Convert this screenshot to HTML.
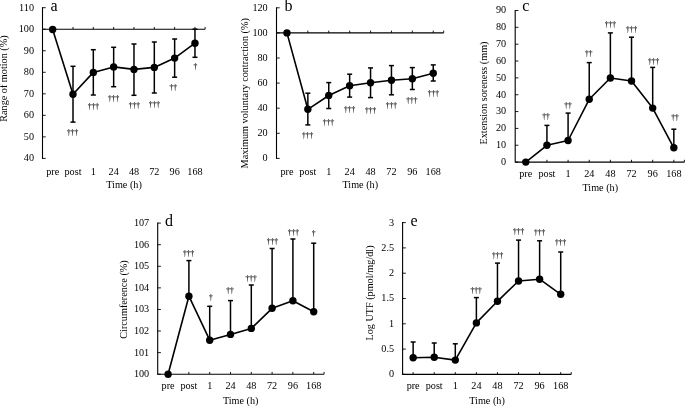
<!DOCTYPE html>
<html><head><meta charset="utf-8"><title>Figure</title>
<style>
html,body{margin:0;padding:0;background:#fff;}
svg{display:block;}
text{font-family:"Liberation Serif","DejaVu Serif",serif;fill:#000;}
</style></head><body>
<svg width="685" height="406" viewBox="0 0 685 406">
<rect width="685" height="406" fill="#fff"/>
<line x1="42.50" y1="7.20" x2="42.50" y2="158.90" stroke="#000" stroke-width="1.1" />
<line x1="42.50" y1="158.40" x2="45.70" y2="158.40" stroke="#000" stroke-width="0.9" />
<text x="34.00" y="161.30" font-size="10.2" text-anchor="end" >40</text>
<line x1="42.50" y1="136.87" x2="45.70" y2="136.87" stroke="#000" stroke-width="0.9" />
<text x="34.00" y="139.77" font-size="10.2" text-anchor="end" >50</text>
<line x1="42.50" y1="115.34" x2="45.70" y2="115.34" stroke="#000" stroke-width="0.9" />
<text x="34.00" y="118.24" font-size="10.2" text-anchor="end" >60</text>
<line x1="42.50" y1="93.81" x2="45.70" y2="93.81" stroke="#000" stroke-width="0.9" />
<text x="34.00" y="96.71" font-size="10.2" text-anchor="end" >70</text>
<line x1="42.50" y1="72.29" x2="45.70" y2="72.29" stroke="#000" stroke-width="0.9" />
<text x="34.00" y="75.19" font-size="10.2" text-anchor="end" >80</text>
<line x1="42.50" y1="50.76" x2="45.70" y2="50.76" stroke="#000" stroke-width="0.9" />
<text x="34.00" y="53.66" font-size="10.2" text-anchor="end" >90</text>
<line x1="42.50" y1="29.23" x2="45.70" y2="29.23" stroke="#000" stroke-width="0.9" />
<text x="34.00" y="32.13" font-size="10.2" text-anchor="end" >100</text>
<line x1="42.50" y1="7.70" x2="45.70" y2="7.70" stroke="#000" stroke-width="0.9" />
<text x="34.00" y="10.60" font-size="10.2" text-anchor="end" >110</text>
<line x1="42.50" y1="29.23" x2="205.14" y2="29.23" stroke="#000" stroke-width="1.1" />
<line x1="52.66" y1="29.23" x2="52.66" y2="26.93" stroke="#000" stroke-width="0.9" />
<line x1="73.00" y1="29.23" x2="73.00" y2="26.93" stroke="#000" stroke-width="0.9" />
<line x1="93.32" y1="29.23" x2="93.32" y2="26.93" stroke="#000" stroke-width="0.9" />
<line x1="113.66" y1="29.23" x2="113.66" y2="26.93" stroke="#000" stroke-width="0.9" />
<line x1="133.98" y1="29.23" x2="133.98" y2="26.93" stroke="#000" stroke-width="0.9" />
<line x1="154.31" y1="29.23" x2="154.31" y2="26.93" stroke="#000" stroke-width="0.9" />
<line x1="174.64" y1="29.23" x2="174.64" y2="26.93" stroke="#000" stroke-width="0.9" />
<line x1="194.97" y1="29.23" x2="194.97" y2="26.93" stroke="#000" stroke-width="0.9" />
<line x1="205.14" y1="29.23" x2="205.14" y2="26.93" stroke="#000" stroke-width="0.9" />
<text x="52.66" y="174.80" font-size="10.2" text-anchor="middle" >pre</text>
<text x="73.00" y="174.80" font-size="10.2" text-anchor="middle" >post</text>
<text x="93.32" y="174.80" font-size="10.2" text-anchor="middle" >1</text>
<text x="113.66" y="174.80" font-size="10.2" text-anchor="middle" >24</text>
<text x="133.98" y="174.80" font-size="10.2" text-anchor="middle" >48</text>
<text x="154.31" y="174.80" font-size="10.2" text-anchor="middle" >72</text>
<text x="174.64" y="174.80" font-size="10.2" text-anchor="middle" >96</text>
<text x="194.97" y="174.80" font-size="10.2" text-anchor="middle" >168</text>
<text x="124.00" y="188.00" font-size="10.2" text-anchor="middle" >Time (h)</text>
<text x="7.30" y="78.60" font-size="10.2" text-anchor="middle" transform="rotate(-90 7.30 78.60)">Range of motion (%)</text>
<text x="54.00" y="11.00" font-size="16" text-anchor="middle" >a</text>
<line x1="73.00" y1="94.20" x2="73.00" y2="66.30" stroke="#000" stroke-width="1.5" />
<line x1="70.50" y1="66.30" x2="75.50" y2="66.30" stroke="#000" stroke-width="1.5" />
<line x1="73.00" y1="94.20" x2="73.00" y2="122.10" stroke="#000" stroke-width="1.5" />
<line x1="70.50" y1="122.10" x2="75.50" y2="122.10" stroke="#000" stroke-width="1.5" />
<line x1="93.32" y1="72.40" x2="93.32" y2="49.70" stroke="#000" stroke-width="1.5" />
<line x1="90.82" y1="49.70" x2="95.82" y2="49.70" stroke="#000" stroke-width="1.5" />
<line x1="93.32" y1="72.40" x2="93.32" y2="95.00" stroke="#000" stroke-width="1.5" />
<line x1="90.82" y1="95.00" x2="95.82" y2="95.00" stroke="#000" stroke-width="1.5" />
<line x1="113.66" y1="66.90" x2="113.66" y2="47.30" stroke="#000" stroke-width="1.5" />
<line x1="111.16" y1="47.30" x2="116.16" y2="47.30" stroke="#000" stroke-width="1.5" />
<line x1="113.66" y1="66.90" x2="113.66" y2="86.70" stroke="#000" stroke-width="1.5" />
<line x1="111.16" y1="86.70" x2="116.16" y2="86.70" stroke="#000" stroke-width="1.5" />
<line x1="133.98" y1="69.40" x2="133.98" y2="44.00" stroke="#000" stroke-width="1.5" />
<line x1="131.48" y1="44.00" x2="136.48" y2="44.00" stroke="#000" stroke-width="1.5" />
<line x1="133.98" y1="69.40" x2="133.98" y2="95.30" stroke="#000" stroke-width="1.5" />
<line x1="131.48" y1="95.30" x2="136.48" y2="95.30" stroke="#000" stroke-width="1.5" />
<line x1="154.31" y1="67.40" x2="154.31" y2="42.00" stroke="#000" stroke-width="1.5" />
<line x1="151.81" y1="42.00" x2="156.81" y2="42.00" stroke="#000" stroke-width="1.5" />
<line x1="154.31" y1="67.40" x2="154.31" y2="93.00" stroke="#000" stroke-width="1.5" />
<line x1="151.81" y1="93.00" x2="156.81" y2="93.00" stroke="#000" stroke-width="1.5" />
<line x1="174.64" y1="58.10" x2="174.64" y2="39.00" stroke="#000" stroke-width="1.5" />
<line x1="172.14" y1="39.00" x2="177.14" y2="39.00" stroke="#000" stroke-width="1.5" />
<line x1="174.64" y1="58.10" x2="174.64" y2="77.20" stroke="#000" stroke-width="1.5" />
<line x1="172.14" y1="77.20" x2="177.14" y2="77.20" stroke="#000" stroke-width="1.5" />
<line x1="194.97" y1="43.20" x2="194.97" y2="29.20" stroke="#000" stroke-width="1.5" />
<line x1="192.47" y1="29.20" x2="197.47" y2="29.20" stroke="#000" stroke-width="1.5" />
<line x1="194.97" y1="43.20" x2="194.97" y2="57.30" stroke="#000" stroke-width="1.5" />
<line x1="192.47" y1="57.30" x2="197.47" y2="57.30" stroke="#000" stroke-width="1.5" />
<polyline points="52.66,29.50 73.00,94.20 93.32,72.40 113.66,66.90 133.98,69.40 154.31,67.40 174.64,58.10 194.97,43.20" fill="none" stroke="#000" stroke-width="1.6" stroke-linejoin="round"/>
<circle cx="52.66" cy="29.50" r="3.7" fill="#000"/>
<circle cx="73.00" cy="94.20" r="3.7" fill="#000"/>
<circle cx="93.32" cy="72.40" r="3.7" fill="#000"/>
<circle cx="113.66" cy="66.90" r="3.7" fill="#000"/>
<circle cx="133.98" cy="69.40" r="3.7" fill="#000"/>
<circle cx="154.31" cy="67.40" r="3.7" fill="#000"/>
<circle cx="174.64" cy="58.10" r="3.7" fill="#000"/>
<circle cx="194.97" cy="43.20" r="3.7" fill="#000"/>
<text x="72.50" y="135.40" font-size="7.5" text-anchor="middle" stroke="#000" stroke-width="0.08">†††</text>
<text x="93.32" y="108.60" font-size="7.5" text-anchor="middle" stroke="#000" stroke-width="0.08">†††</text>
<text x="113.66" y="100.80" font-size="7.5" text-anchor="middle" stroke="#000" stroke-width="0.08">†††</text>
<text x="134.38" y="108.20" font-size="7.5" text-anchor="middle" stroke="#000" stroke-width="0.08">†††</text>
<text x="154.31" y="106.70" font-size="7.5" text-anchor="middle" stroke="#000" stroke-width="0.08">†††</text>
<text x="173.34" y="89.70" font-size="7.5" text-anchor="middle" stroke="#000" stroke-width="0.08">††</text>
<text x="195.38" y="68.80" font-size="7.5" text-anchor="middle" stroke="#000" stroke-width="0.08">†</text>
<line x1="276.50" y1="7.30" x2="276.50" y2="158.90" stroke="#000" stroke-width="1.1" />
<line x1="276.50" y1="158.40" x2="279.70" y2="158.40" stroke="#000" stroke-width="0.9" />
<text x="267.70" y="161.30" font-size="10.2" text-anchor="end" >0</text>
<line x1="276.50" y1="133.30" x2="279.70" y2="133.30" stroke="#000" stroke-width="0.9" />
<text x="267.70" y="136.20" font-size="10.2" text-anchor="end" >20</text>
<line x1="276.50" y1="108.20" x2="279.70" y2="108.20" stroke="#000" stroke-width="0.9" />
<text x="267.70" y="111.10" font-size="10.2" text-anchor="end" >40</text>
<line x1="276.50" y1="83.10" x2="279.70" y2="83.10" stroke="#000" stroke-width="0.9" />
<text x="267.70" y="86.00" font-size="10.2" text-anchor="end" >60</text>
<line x1="276.50" y1="58.00" x2="279.70" y2="58.00" stroke="#000" stroke-width="0.9" />
<text x="267.70" y="60.90" font-size="10.2" text-anchor="end" >80</text>
<line x1="276.50" y1="32.90" x2="279.70" y2="32.90" stroke="#000" stroke-width="0.9" />
<text x="267.70" y="35.80" font-size="10.2" text-anchor="end" >100</text>
<line x1="276.50" y1="7.80" x2="279.70" y2="7.80" stroke="#000" stroke-width="0.9" />
<text x="267.70" y="10.70" font-size="10.2" text-anchor="end" >120</text>
<line x1="276.50" y1="32.90" x2="443.70" y2="32.90" stroke="#000" stroke-width="1.1" />
<line x1="286.95" y1="32.90" x2="286.95" y2="30.60" stroke="#000" stroke-width="0.9" />
<line x1="307.85" y1="32.90" x2="307.85" y2="30.60" stroke="#000" stroke-width="0.9" />
<line x1="328.75" y1="32.90" x2="328.75" y2="30.60" stroke="#000" stroke-width="0.9" />
<line x1="349.65" y1="32.90" x2="349.65" y2="30.60" stroke="#000" stroke-width="0.9" />
<line x1="370.55" y1="32.90" x2="370.55" y2="30.60" stroke="#000" stroke-width="0.9" />
<line x1="391.45" y1="32.90" x2="391.45" y2="30.60" stroke="#000" stroke-width="0.9" />
<line x1="412.35" y1="32.90" x2="412.35" y2="30.60" stroke="#000" stroke-width="0.9" />
<line x1="433.25" y1="32.90" x2="433.25" y2="30.60" stroke="#000" stroke-width="0.9" />
<line x1="443.70" y1="32.90" x2="443.70" y2="30.60" stroke="#000" stroke-width="0.9" />
<text x="286.95" y="174.80" font-size="10.2" text-anchor="middle" >pre</text>
<text x="307.85" y="174.80" font-size="10.2" text-anchor="middle" >post</text>
<text x="328.75" y="174.80" font-size="10.2" text-anchor="middle" >1</text>
<text x="349.65" y="174.80" font-size="10.2" text-anchor="middle" >24</text>
<text x="370.55" y="174.80" font-size="10.2" text-anchor="middle" >48</text>
<text x="391.45" y="174.80" font-size="10.2" text-anchor="middle" >72</text>
<text x="412.35" y="174.80" font-size="10.2" text-anchor="middle" >96</text>
<text x="433.25" y="174.80" font-size="10.2" text-anchor="middle" >168</text>
<text x="360.30" y="188.00" font-size="10.2" text-anchor="middle" >Time (h)</text>
<text x="247.90" y="93.30" font-size="10.2" text-anchor="middle" transform="rotate(-90 247.90 93.30)">Maximum voluntary contraction (%)</text>
<text x="288.40" y="10.80" font-size="16" text-anchor="middle" >b</text>
<line x1="307.85" y1="109.30" x2="307.85" y2="93.20" stroke="#000" stroke-width="1.5" />
<line x1="305.35" y1="93.20" x2="310.35" y2="93.20" stroke="#000" stroke-width="1.5" />
<line x1="307.85" y1="109.30" x2="307.85" y2="124.90" stroke="#000" stroke-width="1.5" />
<line x1="305.35" y1="124.90" x2="310.35" y2="124.90" stroke="#000" stroke-width="1.5" />
<line x1="328.75" y1="95.50" x2="328.75" y2="82.60" stroke="#000" stroke-width="1.5" />
<line x1="326.25" y1="82.60" x2="331.25" y2="82.60" stroke="#000" stroke-width="1.5" />
<line x1="328.75" y1="95.50" x2="328.75" y2="108.50" stroke="#000" stroke-width="1.5" />
<line x1="326.25" y1="108.50" x2="331.25" y2="108.50" stroke="#000" stroke-width="1.5" />
<line x1="349.65" y1="85.80" x2="349.65" y2="74.20" stroke="#000" stroke-width="1.5" />
<line x1="347.15" y1="74.20" x2="352.15" y2="74.20" stroke="#000" stroke-width="1.5" />
<line x1="349.65" y1="85.80" x2="349.65" y2="97.10" stroke="#000" stroke-width="1.5" />
<line x1="347.15" y1="97.10" x2="352.15" y2="97.10" stroke="#000" stroke-width="1.5" />
<line x1="370.55" y1="82.70" x2="370.55" y2="67.90" stroke="#000" stroke-width="1.5" />
<line x1="368.05" y1="67.90" x2="373.05" y2="67.90" stroke="#000" stroke-width="1.5" />
<line x1="370.55" y1="82.70" x2="370.55" y2="97.60" stroke="#000" stroke-width="1.5" />
<line x1="368.05" y1="97.60" x2="373.05" y2="97.60" stroke="#000" stroke-width="1.5" />
<line x1="391.45" y1="80.20" x2="391.45" y2="65.60" stroke="#000" stroke-width="1.5" />
<line x1="388.95" y1="65.60" x2="393.95" y2="65.60" stroke="#000" stroke-width="1.5" />
<line x1="391.45" y1="80.20" x2="391.45" y2="94.80" stroke="#000" stroke-width="1.5" />
<line x1="388.95" y1="94.80" x2="393.95" y2="94.80" stroke="#000" stroke-width="1.5" />
<line x1="412.35" y1="78.70" x2="412.35" y2="67.60" stroke="#000" stroke-width="1.5" />
<line x1="409.85" y1="67.60" x2="414.85" y2="67.60" stroke="#000" stroke-width="1.5" />
<line x1="412.35" y1="78.70" x2="412.35" y2="89.50" stroke="#000" stroke-width="1.5" />
<line x1="409.85" y1="89.50" x2="414.85" y2="89.50" stroke="#000" stroke-width="1.5" />
<line x1="433.25" y1="73.20" x2="433.25" y2="64.90" stroke="#000" stroke-width="1.5" />
<line x1="430.75" y1="64.90" x2="435.75" y2="64.90" stroke="#000" stroke-width="1.5" />
<line x1="433.25" y1="73.20" x2="433.25" y2="81.00" stroke="#000" stroke-width="1.5" />
<line x1="430.75" y1="81.00" x2="435.75" y2="81.00" stroke="#000" stroke-width="1.5" />
<polyline points="286.95,32.90 307.85,109.30 328.75,95.50 349.65,85.80 370.55,82.70 391.45,80.20 412.35,78.70 433.25,73.20" fill="none" stroke="#000" stroke-width="1.6" stroke-linejoin="round"/>
<circle cx="286.95" cy="32.90" r="3.7" fill="#000"/>
<circle cx="307.85" cy="109.30" r="3.7" fill="#000"/>
<circle cx="328.75" cy="95.50" r="3.7" fill="#000"/>
<circle cx="349.65" cy="85.80" r="3.7" fill="#000"/>
<circle cx="370.55" cy="82.70" r="3.7" fill="#000"/>
<circle cx="391.45" cy="80.20" r="3.7" fill="#000"/>
<circle cx="412.35" cy="78.70" r="3.7" fill="#000"/>
<circle cx="433.25" cy="73.20" r="3.7" fill="#000"/>
<text x="307.65" y="138.30" font-size="7.5" text-anchor="middle" stroke="#000" stroke-width="0.08">†††</text>
<text x="328.35" y="124.90" font-size="7.5" text-anchor="middle" stroke="#000" stroke-width="0.08">†††</text>
<text x="349.65" y="111.60" font-size="7.5" text-anchor="middle" stroke="#000" stroke-width="0.08">†††</text>
<text x="370.55" y="112.60" font-size="7.5" text-anchor="middle" stroke="#000" stroke-width="0.08">†††</text>
<text x="391.45" y="108.00" font-size="7.5" text-anchor="middle" stroke="#000" stroke-width="0.08">†††</text>
<text x="411.75" y="102.80" font-size="7.5" text-anchor="middle" stroke="#000" stroke-width="0.08">†††</text>
<text x="433.25" y="95.70" font-size="7.5" text-anchor="middle" stroke="#000" stroke-width="0.08">†††</text>
<line x1="515.20" y1="10.00" x2="515.20" y2="162.60" stroke="#000" stroke-width="1.1" />
<line x1="515.20" y1="162.10" x2="518.40" y2="162.10" stroke="#000" stroke-width="0.9" />
<text x="506.10" y="165.00" font-size="10.2" text-anchor="end" >0</text>
<line x1="515.20" y1="145.26" x2="518.40" y2="145.26" stroke="#000" stroke-width="0.9" />
<text x="506.10" y="148.16" font-size="10.2" text-anchor="end" >10</text>
<line x1="515.20" y1="128.41" x2="518.40" y2="128.41" stroke="#000" stroke-width="0.9" />
<text x="506.10" y="131.31" font-size="10.2" text-anchor="end" >20</text>
<line x1="515.20" y1="111.57" x2="518.40" y2="111.57" stroke="#000" stroke-width="0.9" />
<text x="506.10" y="114.47" font-size="10.2" text-anchor="end" >30</text>
<line x1="515.20" y1="94.72" x2="518.40" y2="94.72" stroke="#000" stroke-width="0.9" />
<text x="506.10" y="97.62" font-size="10.2" text-anchor="end" >40</text>
<line x1="515.20" y1="77.88" x2="518.40" y2="77.88" stroke="#000" stroke-width="0.9" />
<text x="506.10" y="80.78" font-size="10.2" text-anchor="end" >50</text>
<line x1="515.20" y1="61.03" x2="518.40" y2="61.03" stroke="#000" stroke-width="0.9" />
<text x="506.10" y="63.93" font-size="10.2" text-anchor="end" >60</text>
<line x1="515.20" y1="44.19" x2="518.40" y2="44.19" stroke="#000" stroke-width="0.9" />
<text x="506.10" y="47.09" font-size="10.2" text-anchor="end" >70</text>
<line x1="515.20" y1="27.34" x2="518.40" y2="27.34" stroke="#000" stroke-width="0.9" />
<text x="506.10" y="30.24" font-size="10.2" text-anchor="end" >80</text>
<line x1="515.20" y1="10.50" x2="518.40" y2="10.50" stroke="#000" stroke-width="0.9" />
<text x="506.10" y="13.40" font-size="10.2" text-anchor="end" >90</text>
<line x1="515.20" y1="162.10" x2="684.40" y2="162.10" stroke="#000" stroke-width="1.1" />
<line x1="525.78" y1="162.10" x2="525.78" y2="159.80" stroke="#000" stroke-width="0.9" />
<line x1="546.93" y1="162.10" x2="546.93" y2="159.80" stroke="#000" stroke-width="0.9" />
<line x1="568.08" y1="162.10" x2="568.08" y2="159.80" stroke="#000" stroke-width="0.9" />
<line x1="589.23" y1="162.10" x2="589.23" y2="159.80" stroke="#000" stroke-width="0.9" />
<line x1="610.38" y1="162.10" x2="610.38" y2="159.80" stroke="#000" stroke-width="0.9" />
<line x1="631.53" y1="162.10" x2="631.53" y2="159.80" stroke="#000" stroke-width="0.9" />
<line x1="652.68" y1="162.10" x2="652.68" y2="159.80" stroke="#000" stroke-width="0.9" />
<line x1="673.83" y1="162.10" x2="673.83" y2="159.80" stroke="#000" stroke-width="0.9" />
<line x1="684.40" y1="162.10" x2="684.40" y2="159.80" stroke="#000" stroke-width="0.9" />
<text x="525.78" y="177.00" font-size="10.2" text-anchor="middle" >pre</text>
<text x="546.93" y="177.00" font-size="10.2" text-anchor="middle" >post</text>
<text x="568.08" y="177.00" font-size="10.2" text-anchor="middle" >1</text>
<text x="589.23" y="177.00" font-size="10.2" text-anchor="middle" >24</text>
<text x="610.38" y="177.00" font-size="10.2" text-anchor="middle" >48</text>
<text x="631.53" y="177.00" font-size="10.2" text-anchor="middle" >72</text>
<text x="652.68" y="177.00" font-size="10.2" text-anchor="middle" >96</text>
<text x="673.83" y="177.00" font-size="10.2" text-anchor="middle" >168</text>
<text x="600.30" y="191.20" font-size="10.2" text-anchor="middle" >Time (h)</text>
<text x="487.30" y="93.00" font-size="10.2" text-anchor="middle" transform="rotate(-90 487.30 93.00)">Extension soreness (mm)</text>
<text x="525.70" y="11.00" font-size="16" text-anchor="middle" >c</text>
<line x1="546.93" y1="145.30" x2="546.93" y2="125.40" stroke="#000" stroke-width="1.5" />
<line x1="544.43" y1="125.40" x2="549.43" y2="125.40" stroke="#000" stroke-width="1.5" />
<line x1="568.08" y1="140.50" x2="568.08" y2="113.10" stroke="#000" stroke-width="1.5" />
<line x1="565.58" y1="113.10" x2="570.58" y2="113.10" stroke="#000" stroke-width="1.5" />
<line x1="589.23" y1="99.30" x2="589.23" y2="62.60" stroke="#000" stroke-width="1.5" />
<line x1="586.73" y1="62.60" x2="591.73" y2="62.60" stroke="#000" stroke-width="1.5" />
<line x1="610.38" y1="78.00" x2="610.38" y2="32.90" stroke="#000" stroke-width="1.5" />
<line x1="607.88" y1="32.90" x2="612.88" y2="32.90" stroke="#000" stroke-width="1.5" />
<line x1="631.53" y1="81.00" x2="631.53" y2="37.20" stroke="#000" stroke-width="1.5" />
<line x1="629.03" y1="37.20" x2="634.03" y2="37.20" stroke="#000" stroke-width="1.5" />
<line x1="652.68" y1="108.10" x2="652.68" y2="67.40" stroke="#000" stroke-width="1.5" />
<line x1="650.18" y1="67.40" x2="655.18" y2="67.40" stroke="#000" stroke-width="1.5" />
<line x1="673.83" y1="147.80" x2="673.83" y2="129.20" stroke="#000" stroke-width="1.5" />
<line x1="671.33" y1="129.20" x2="676.33" y2="129.20" stroke="#000" stroke-width="1.5" />
<polyline points="525.78,162.10 546.93,145.30 568.08,140.50 589.23,99.30 610.38,78.00 631.53,81.00 652.68,108.10 673.83,147.80" fill="none" stroke="#000" stroke-width="1.6" stroke-linejoin="round"/>
<circle cx="525.78" cy="162.10" r="3.7" fill="#000"/>
<circle cx="546.93" cy="145.30" r="3.7" fill="#000"/>
<circle cx="568.08" cy="140.50" r="3.7" fill="#000"/>
<circle cx="589.23" cy="99.30" r="3.7" fill="#000"/>
<circle cx="610.38" cy="78.00" r="3.7" fill="#000"/>
<circle cx="631.53" cy="81.00" r="3.7" fill="#000"/>
<circle cx="652.68" cy="108.10" r="3.7" fill="#000"/>
<circle cx="673.83" cy="147.80" r="3.7" fill="#000"/>
<text x="545.93" y="119.10" font-size="7.5" text-anchor="middle" stroke="#000" stroke-width="0.08">††</text>
<text x="568.08" y="107.90" font-size="7.5" text-anchor="middle" stroke="#000" stroke-width="0.08">††</text>
<text x="588.83" y="55.60" font-size="7.5" text-anchor="middle" stroke="#000" stroke-width="0.08">††</text>
<text x="610.38" y="26.90" font-size="7.5" text-anchor="middle" stroke="#000" stroke-width="0.08">†††</text>
<text x="631.53" y="32.40" font-size="7.5" text-anchor="middle" stroke="#000" stroke-width="0.08">†††</text>
<text x="653.58" y="63.50" font-size="7.5" text-anchor="middle" stroke="#000" stroke-width="0.08">†††</text>
<text x="675.03" y="119.90" font-size="7.5" text-anchor="middle" stroke="#000" stroke-width="0.08">††</text>
<line x1="157.70" y1="222.60" x2="157.70" y2="374.70" stroke="#000" stroke-width="1.1" />
<line x1="157.70" y1="374.20" x2="160.90" y2="374.20" stroke="#000" stroke-width="0.9" />
<text x="149.20" y="377.10" font-size="10.2" text-anchor="end" >100</text>
<line x1="157.70" y1="352.61" x2="160.90" y2="352.61" stroke="#000" stroke-width="0.9" />
<text x="149.20" y="355.51" font-size="10.2" text-anchor="end" >101</text>
<line x1="157.70" y1="331.03" x2="160.90" y2="331.03" stroke="#000" stroke-width="0.9" />
<text x="149.20" y="333.93" font-size="10.2" text-anchor="end" >102</text>
<line x1="157.70" y1="309.44" x2="160.90" y2="309.44" stroke="#000" stroke-width="0.9" />
<text x="149.20" y="312.34" font-size="10.2" text-anchor="end" >103</text>
<line x1="157.70" y1="287.86" x2="160.90" y2="287.86" stroke="#000" stroke-width="0.9" />
<text x="149.20" y="290.76" font-size="10.2" text-anchor="end" >104</text>
<line x1="157.70" y1="266.27" x2="160.90" y2="266.27" stroke="#000" stroke-width="0.9" />
<text x="149.20" y="269.17" font-size="10.2" text-anchor="end" >105</text>
<line x1="157.70" y1="244.69" x2="160.90" y2="244.69" stroke="#000" stroke-width="0.9" />
<text x="149.20" y="247.59" font-size="10.2" text-anchor="end" >106</text>
<line x1="157.70" y1="223.10" x2="160.90" y2="223.10" stroke="#000" stroke-width="0.9" />
<text x="149.20" y="226.00" font-size="10.2" text-anchor="end" >107</text>
<line x1="157.70" y1="374.20" x2="324.10" y2="374.20" stroke="#000" stroke-width="1.1" />
<line x1="168.10" y1="374.20" x2="168.10" y2="371.90" stroke="#000" stroke-width="0.9" />
<line x1="188.90" y1="374.20" x2="188.90" y2="371.90" stroke="#000" stroke-width="0.9" />
<line x1="209.70" y1="374.20" x2="209.70" y2="371.90" stroke="#000" stroke-width="0.9" />
<line x1="230.50" y1="374.20" x2="230.50" y2="371.90" stroke="#000" stroke-width="0.9" />
<line x1="251.30" y1="374.20" x2="251.30" y2="371.90" stroke="#000" stroke-width="0.9" />
<line x1="272.10" y1="374.20" x2="272.10" y2="371.90" stroke="#000" stroke-width="0.9" />
<line x1="292.90" y1="374.20" x2="292.90" y2="371.90" stroke="#000" stroke-width="0.9" />
<line x1="313.70" y1="374.20" x2="313.70" y2="371.90" stroke="#000" stroke-width="0.9" />
<line x1="324.10" y1="374.20" x2="324.10" y2="371.90" stroke="#000" stroke-width="0.9" />
<text x="168.10" y="388.90" font-size="10.2" text-anchor="middle" >pre</text>
<text x="188.90" y="388.90" font-size="10.2" text-anchor="middle" >post</text>
<text x="209.70" y="388.90" font-size="10.2" text-anchor="middle" >1</text>
<text x="230.50" y="388.90" font-size="10.2" text-anchor="middle" >24</text>
<text x="251.30" y="388.90" font-size="10.2" text-anchor="middle" >48</text>
<text x="272.10" y="388.90" font-size="10.2" text-anchor="middle" >72</text>
<text x="292.90" y="388.90" font-size="10.2" text-anchor="middle" >96</text>
<text x="313.70" y="388.90" font-size="10.2" text-anchor="middle" >168</text>
<text x="240.70" y="403.60" font-size="10.2" text-anchor="middle" >Time (h)</text>
<text x="126.80" y="299.50" font-size="10.2" text-anchor="middle" transform="rotate(-90 126.80 299.50)">Circumference (%)</text>
<text x="169.00" y="225.60" font-size="16" text-anchor="middle" >d</text>
<line x1="188.90" y1="296.20" x2="188.90" y2="260.60" stroke="#000" stroke-width="1.5" />
<line x1="186.40" y1="260.60" x2="191.40" y2="260.60" stroke="#000" stroke-width="1.5" />
<line x1="209.70" y1="340.20" x2="209.70" y2="306.30" stroke="#000" stroke-width="1.5" />
<line x1="207.20" y1="306.30" x2="212.20" y2="306.30" stroke="#000" stroke-width="1.5" />
<line x1="230.50" y1="334.40" x2="230.50" y2="300.60" stroke="#000" stroke-width="1.5" />
<line x1="228.00" y1="300.60" x2="233.00" y2="300.60" stroke="#000" stroke-width="1.5" />
<line x1="251.30" y1="328.40" x2="251.30" y2="285.00" stroke="#000" stroke-width="1.5" />
<line x1="248.80" y1="285.00" x2="253.80" y2="285.00" stroke="#000" stroke-width="1.5" />
<line x1="272.10" y1="308.30" x2="272.10" y2="248.50" stroke="#000" stroke-width="1.5" />
<line x1="269.60" y1="248.50" x2="274.60" y2="248.50" stroke="#000" stroke-width="1.5" />
<line x1="292.90" y1="300.80" x2="292.90" y2="239.00" stroke="#000" stroke-width="1.5" />
<line x1="290.40" y1="239.00" x2="295.40" y2="239.00" stroke="#000" stroke-width="1.5" />
<line x1="313.70" y1="311.80" x2="313.70" y2="243.20" stroke="#000" stroke-width="1.5" />
<line x1="311.20" y1="243.20" x2="316.20" y2="243.20" stroke="#000" stroke-width="1.5" />
<polyline points="168.10,374.20 188.90,296.20 209.70,340.20 230.50,334.40 251.30,328.40 272.10,308.30 292.90,300.80 313.70,311.80" fill="none" stroke="#000" stroke-width="1.6" stroke-linejoin="round"/>
<circle cx="168.10" cy="374.20" r="3.7" fill="#000"/>
<circle cx="188.90" cy="296.20" r="3.7" fill="#000"/>
<circle cx="209.70" cy="340.20" r="3.7" fill="#000"/>
<circle cx="230.50" cy="334.40" r="3.7" fill="#000"/>
<circle cx="251.30" cy="328.40" r="3.7" fill="#000"/>
<circle cx="272.10" cy="308.30" r="3.7" fill="#000"/>
<circle cx="292.90" cy="300.80" r="3.7" fill="#000"/>
<circle cx="313.70" cy="311.80" r="3.7" fill="#000"/>
<text x="188.70" y="256.20" font-size="7.5" text-anchor="middle" stroke="#000" stroke-width="0.08">†††</text>
<text x="210.80" y="299.80" font-size="7.5" text-anchor="middle" stroke="#000" stroke-width="0.08">†</text>
<text x="229.90" y="292.70" font-size="7.5" text-anchor="middle" stroke="#000" stroke-width="0.08">††</text>
<text x="251.10" y="281.40" font-size="7.5" text-anchor="middle" stroke="#000" stroke-width="0.08">†††</text>
<text x="272.30" y="243.60" font-size="7.5" text-anchor="middle" stroke="#000" stroke-width="0.08">†††</text>
<text x="293.30" y="234.60" font-size="7.5" text-anchor="middle" stroke="#000" stroke-width="0.08">†††</text>
<text x="313.70" y="236.10" font-size="7.5" text-anchor="middle" stroke="#000" stroke-width="0.08">†</text>
<line x1="402.60" y1="222.10" x2="402.60" y2="374.90" stroke="#000" stroke-width="1.1" />
<line x1="402.60" y1="374.40" x2="405.80" y2="374.40" stroke="#000" stroke-width="0.9" />
<text x="394.10" y="377.30" font-size="10.2" text-anchor="end" >0</text>
<line x1="402.60" y1="349.10" x2="405.80" y2="349.10" stroke="#000" stroke-width="0.9" />
<text x="394.10" y="352.00" font-size="10.2" text-anchor="end" >0.5</text>
<line x1="402.60" y1="323.80" x2="405.80" y2="323.80" stroke="#000" stroke-width="0.9" />
<text x="394.10" y="326.70" font-size="10.2" text-anchor="end" >1</text>
<line x1="402.60" y1="298.50" x2="405.80" y2="298.50" stroke="#000" stroke-width="0.9" />
<text x="394.10" y="301.40" font-size="10.2" text-anchor="end" >1.5</text>
<line x1="402.60" y1="273.20" x2="405.80" y2="273.20" stroke="#000" stroke-width="0.9" />
<text x="394.10" y="276.10" font-size="10.2" text-anchor="end" >2</text>
<line x1="402.60" y1="247.90" x2="405.80" y2="247.90" stroke="#000" stroke-width="0.9" />
<text x="394.10" y="250.80" font-size="10.2" text-anchor="end" >2.5</text>
<line x1="402.60" y1="222.60" x2="405.80" y2="222.60" stroke="#000" stroke-width="0.9" />
<text x="394.10" y="225.50" font-size="10.2" text-anchor="end" >3</text>
<line x1="402.60" y1="374.40" x2="571.24" y2="374.40" stroke="#000" stroke-width="1.1" />
<line x1="413.14" y1="374.40" x2="413.14" y2="372.10" stroke="#000" stroke-width="0.9" />
<line x1="434.22" y1="374.40" x2="434.22" y2="372.10" stroke="#000" stroke-width="0.9" />
<line x1="455.30" y1="374.40" x2="455.30" y2="372.10" stroke="#000" stroke-width="0.9" />
<line x1="476.38" y1="374.40" x2="476.38" y2="372.10" stroke="#000" stroke-width="0.9" />
<line x1="497.46" y1="374.40" x2="497.46" y2="372.10" stroke="#000" stroke-width="0.9" />
<line x1="518.54" y1="374.40" x2="518.54" y2="372.10" stroke="#000" stroke-width="0.9" />
<line x1="539.62" y1="374.40" x2="539.62" y2="372.10" stroke="#000" stroke-width="0.9" />
<line x1="560.70" y1="374.40" x2="560.70" y2="372.10" stroke="#000" stroke-width="0.9" />
<line x1="571.24" y1="374.40" x2="571.24" y2="372.10" stroke="#000" stroke-width="0.9" />
<text x="413.14" y="389.30" font-size="10.2" text-anchor="middle" >pre</text>
<text x="434.22" y="389.30" font-size="10.2" text-anchor="middle" >post</text>
<text x="455.30" y="389.30" font-size="10.2" text-anchor="middle" >1</text>
<text x="476.38" y="389.30" font-size="10.2" text-anchor="middle" >24</text>
<text x="497.46" y="389.30" font-size="10.2" text-anchor="middle" >48</text>
<text x="518.54" y="389.30" font-size="10.2" text-anchor="middle" >72</text>
<text x="539.62" y="389.30" font-size="10.2" text-anchor="middle" >96</text>
<text x="560.70" y="389.30" font-size="10.2" text-anchor="middle" >168</text>
<text x="487.00" y="403.70" font-size="10.2" text-anchor="middle" >Time (h)</text>
<text x="372.80" y="293.00" font-size="10.2" text-anchor="middle" transform="rotate(-90 372.80 293.00)">Log UTF (pmol/mg/dl)</text>
<text x="414.10" y="225.60" font-size="16" text-anchor="middle" >e</text>
<line x1="413.14" y1="357.80" x2="413.14" y2="342.00" stroke="#000" stroke-width="1.5" />
<line x1="410.64" y1="342.00" x2="415.64" y2="342.00" stroke="#000" stroke-width="1.5" />
<line x1="434.22" y1="357.30" x2="434.22" y2="343.00" stroke="#000" stroke-width="1.5" />
<line x1="431.72" y1="343.00" x2="436.72" y2="343.00" stroke="#000" stroke-width="1.5" />
<line x1="455.30" y1="360.10" x2="455.30" y2="343.80" stroke="#000" stroke-width="1.5" />
<line x1="452.80" y1="343.80" x2="457.80" y2="343.80" stroke="#000" stroke-width="1.5" />
<line x1="476.38" y1="322.90" x2="476.38" y2="297.60" stroke="#000" stroke-width="1.5" />
<line x1="473.88" y1="297.60" x2="478.88" y2="297.60" stroke="#000" stroke-width="1.5" />
<line x1="497.46" y1="301.30" x2="497.46" y2="263.10" stroke="#000" stroke-width="1.5" />
<line x1="494.96" y1="263.10" x2="499.96" y2="263.10" stroke="#000" stroke-width="1.5" />
<line x1="518.54" y1="281.00" x2="518.54" y2="240.10" stroke="#000" stroke-width="1.5" />
<line x1="516.04" y1="240.10" x2="521.04" y2="240.10" stroke="#000" stroke-width="1.5" />
<line x1="539.62" y1="279.20" x2="539.62" y2="240.80" stroke="#000" stroke-width="1.5" />
<line x1="537.12" y1="240.80" x2="542.12" y2="240.80" stroke="#000" stroke-width="1.5" />
<line x1="560.70" y1="294.30" x2="560.70" y2="252.00" stroke="#000" stroke-width="1.5" />
<line x1="558.20" y1="252.00" x2="563.20" y2="252.00" stroke="#000" stroke-width="1.5" />
<polyline points="413.14,357.80 434.22,357.30 455.30,360.10 476.38,322.90 497.46,301.30 518.54,281.00 539.62,279.20 560.70,294.30" fill="none" stroke="#000" stroke-width="1.6" stroke-linejoin="round"/>
<circle cx="413.14" cy="357.80" r="3.7" fill="#000"/>
<circle cx="434.22" cy="357.30" r="3.7" fill="#000"/>
<circle cx="455.30" cy="360.10" r="3.7" fill="#000"/>
<circle cx="476.38" cy="322.90" r="3.7" fill="#000"/>
<circle cx="497.46" cy="301.30" r="3.7" fill="#000"/>
<circle cx="518.54" cy="281.00" r="3.7" fill="#000"/>
<circle cx="539.62" cy="279.20" r="3.7" fill="#000"/>
<circle cx="560.70" cy="294.30" r="3.7" fill="#000"/>
<text x="476.18" y="293.40" font-size="7.5" text-anchor="middle" stroke="#000" stroke-width="0.08">†††</text>
<text x="497.66" y="257.70" font-size="7.5" text-anchor="middle" stroke="#000" stroke-width="0.08">†††</text>
<text x="518.54" y="233.80" font-size="7.5" text-anchor="middle" stroke="#000" stroke-width="0.08">†††</text>
<text x="539.62" y="234.90" font-size="7.5" text-anchor="middle" stroke="#000" stroke-width="0.08">†††</text>
<text x="560.70" y="245.00" font-size="7.5" text-anchor="middle" stroke="#000" stroke-width="0.08">†††</text>
</svg>
</body></html>
